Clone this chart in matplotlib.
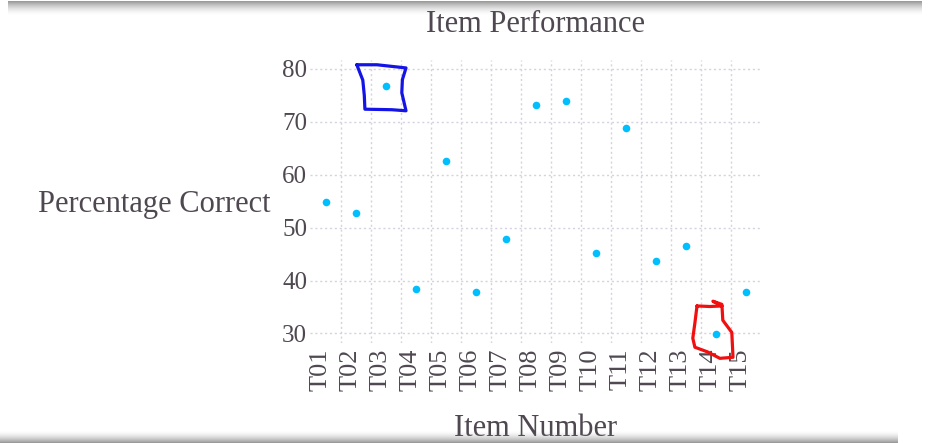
import matplotlib
matplotlib.use("Agg")
import matplotlib.pyplot as plt
import numpy as np
from matplotlib.transforms import ScaledTranslation

# ---- data ----
items = ["T01", "T02", "T03", "T04", "T05", "T06", "T07", "T08",
         "T09", "T10", "T11", "T12", "T13", "T14", "T15"]
pct_correct = [54.9, 52.7, 76.8, 38.5, 62.6, 37.9, 47.8, 73.1,
               74.0, 45.3, 68.8, 43.7, 46.6, 29.9, 37.9]
y_ticks = [30, 40, 50, 60, 70, 80]

# hand-drawn highlight outlines (data coords)
blue_x = [1.03, 1.7, 2.67, 2.55, 2.53, 2.67, 2.2, 1.3, 1.28, 1.23, 1.03]
blue_y = [80.8, 80.8, 80.2, 78.0, 75.5, 72.1, 72.3, 72.4, 75.0, 77.9, 80.8]
red_x = [12.37, 12.8, 13.2, 12.9, 13.2, 13.23, 13.53, 13.57, 13.13, 12.73, 12.3, 12.23, 12.3, 12.37]
red_y = [35.2, 35.1, 35.2, 36.1, 35.5, 32.5, 30.2, 25.5, 25.3, 26.5, 27.4, 29.1, 32.0, 35.2]

W, H = 949, 443
fig = plt.figure(figsize=(W / 100, H / 100), dpi=100)
fig.patch.set_facecolor("white")

txt = "#4f4851"
serif = "Liberation Serif"

L, R, T, B = 310, 760, 60, 343
ax = fig.add_axes([L / W, 1 - B / H, (R - L) / W, (B - T) / H])
x = np.arange(len(items))
ax.scatter(x, pct_correct, s=30, color="#00bfff", zorder=3, linewidths=0)

ax.set_xlim(-0.53, 14.47)
ax.set_ylim(28.2, 81.7)
ax.set_yticks(y_ticks)
ax.set_xticks(x)
ax.set_xticklabels(items, rotation=90, fontfamily=serif, fontsize=19, color=txt)
ax.set_yticklabels([str(v) for v in y_ticks], fontfamily=serif, fontsize=18, color=txt)
ax.tick_params(axis="both", length=0)
ax.tick_params(axis="x", pad=4)
ax.tick_params(axis="y", pad=2)
for lab in ax.get_xticklabels():
    lab.set_transform(lab.get_transform() + ScaledTranslation(-5 / 100, 0, fig.dpi_scale_trans))
for s in ax.spines.values():
    s.set_visible(False)

# grid
for v in y_ticks:
    ax.axhline(v, color="#d4d2e0", lw=1, ls=(0, (1.5, 2)), zorder=1)
for i in range(len(items) - 1):
    ax.axvline(i + 0.5, color="#d4d2e0", lw=1, ls=(0, (1.5, 2)), zorder=1)

# annotations
ax.plot(blue_x, blue_y, color="#1414e6", lw=2.3, clip_on=False, zorder=4,
        solid_joinstyle="round", solid_capstyle="round")
ax.plot(red_x, red_y, color="#f01010", lw=2.3, clip_on=False, zorder=4,
        solid_joinstyle="round", solid_capstyle="round")

# titles
fig.text(536 / W, 1 - 24 / H, "Item Performance", ha="center", va="center",
         fontfamily=serif, fontsize=22, color=txt)
fig.text(270 / W, 1 - 204 / H, "Percentage Correct", ha="right", va="center",
         fontfamily=serif, fontsize=22, color=txt)
fig.text(536 / W, 1 - 429 / H, "Item Number", ha="center", va="center",
         fontfamily=serif, fontsize=22, color=txt)

# screenshot shadow bands (semi-transparent gradients)
g = np.linspace(0, 1, 64)
def band(alpha):
    img = np.zeros((alpha.shape[0], 1, 4))
    img[:, 0, :3] = 0.45
    img[:, 0, 3] = alpha
    return img

top = fig.add_axes([8 / W, 1 - 16 / H, (922 - 8) / W, 15 / H], zorder=10)
top.imshow(band(0.75 * (1 - g) ** 1.8), aspect="auto", extent=[0, 1, 0, 1])
top.axis("off")
bot = fig.add_axes([0, 0, 898 / W, 13 / H], zorder=10)
bot.imshow(band(0.75 * g ** 1.8), aspect="auto", extent=[0, 1, 0, 1])
bot.axis("off")

fig.savefig("out.png", dpi=100, facecolor="white")
